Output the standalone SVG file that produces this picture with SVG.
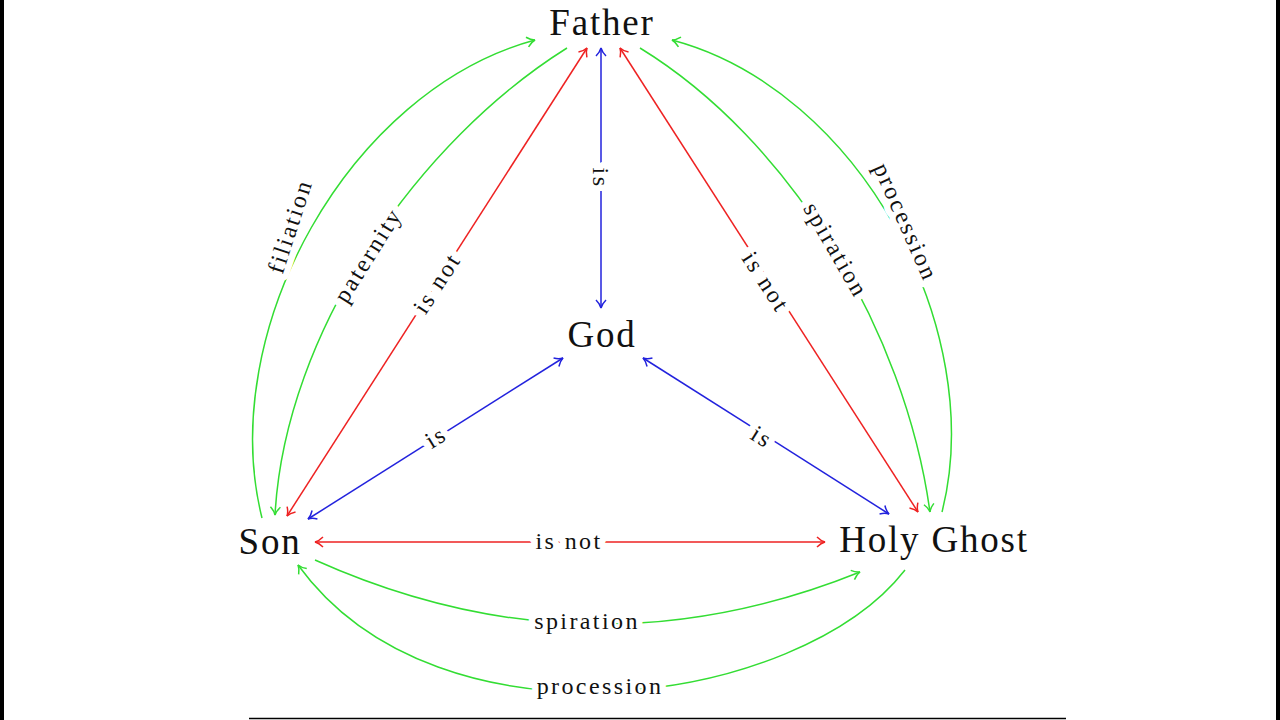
<svg xmlns="http://www.w3.org/2000/svg" width="1280" height="720" viewBox="0 0 1280 720">
<defs>
<marker id="ag" markerWidth="12" markerHeight="12" refX="10" refY="6" orient="auto-start-reverse" markerUnits="userSpaceOnUse"><path d="M2,1 Q6,5 10,6 Q6,7 2,11" fill="none" stroke="#33dd33" stroke-width="1.5"/></marker>
<marker id="ar" markerWidth="12" markerHeight="12" refX="10" refY="6" orient="auto-start-reverse" markerUnits="userSpaceOnUse"><path d="M2,1 Q6,5 10,6 Q6,7 2,11" fill="none" stroke="#ee2222" stroke-width="1.5"/></marker>
<marker id="ab" markerWidth="12" markerHeight="12" refX="10" refY="6" orient="auto-start-reverse" markerUnits="userSpaceOnUse"><path d="M2,1 Q6,5 10,6 Q6,7 2,11" fill="none" stroke="#2222dd" stroke-width="1.5"/></marker>
<style>
.g{fill:none;stroke:#33dd33;stroke-width:1.5}
.r{fill:none;stroke:#ee2222;stroke-width:1.5}
.b{fill:none;stroke:#2222dd;stroke-width:1.5}
.n{font-family:"Liberation Serif",serif;font-size:37px;letter-spacing:1.8px;fill:#111;text-anchor:middle}
.l{font-family:"Liberation Serif",serif;font-size:24px;letter-spacing:2.4px;fill:#111;text-anchor:middle;dominant-baseline:central;paint-order:stroke;stroke:#fff;stroke-width:13px;stroke-linejoin:round}
</style>
</defs>
<rect width="1280" height="720" fill="#fff"/>
<rect x="0" y="0" width="4" height="720" fill="#000"/>
<rect x="1276" y="0" width="4" height="720" fill="#000"/>
<line x1="249" y1="718.5" x2="1066" y2="718.5" stroke="#000" stroke-width="1.5"/>
<g id="connectors">
<path class="g" marker-end="url(#ag)" d="M262 518 C215 330 350 90 535 40"/>
<path class="g" marker-end="url(#ag)" d="M567 48 C420 140 285 330 275 515"/>
<path class="r" marker-start="url(#ar)" marker-end="url(#ar)" d="M287 516 L587 48"/>
<path class="b" marker-start="url(#ab)" marker-end="url(#ab)" d="M601 48 L601 308"/>
<path class="b" marker-start="url(#ab)" marker-end="url(#ab)" d="M308 519 L563 358"/>
<path class="b" marker-start="url(#ab)" marker-end="url(#ab)" d="M643 358 L889 514"/>
<path class="r" marker-start="url(#ar)" marker-end="url(#ar)" d="M620 48 L918 512"/>
<path class="g" marker-end="url(#ag)" d="M640 48 C790 140 905 330 930 512"/>
<path class="g" marker-end="url(#ag)" d="M942 512 C988 330 860 90 672 40"/>
<path class="r" marker-start="url(#ar)" marker-end="url(#ar)" d="M315 542 L825 542"/>
<path class="g" marker-end="url(#ag)" d="M315 560 Q587 682 860 572"/>
<path class="g" marker-end="url(#ag)" d="M905 570 C800 705 440 760 298 565"/>
<g>
<text class="l" transform="translate(290,226) rotate(-72)">filiation</text>
<text class="l" transform="translate(368,255) rotate(-58)">paternity</text>
<text class="l" transform="translate(437,283) rotate(-57)">is not</text>
<text class="l" transform="translate(601,178) rotate(90)">is</text>
<text class="l" transform="translate(436,437) rotate(-32)">is</text>
<text class="l" transform="translate(762,437) rotate(32)">is</text>
<text class="l" transform="translate(766,282) rotate(57)">is not</text>
<text class="l" transform="translate(836,250) rotate(60)">spiration</text>
<text class="l" transform="translate(906,222) rotate(66)">procession</text>
<text class="l" x="569" y="541">is not</text>
<text class="l" x="587" y="621">spiration</text>
<text class="l" x="600" y="686">procession</text>
</g>
</g>
<g id="father"><text class="n" x="602" y="35">Father</text></g>
<g id="god"><text class="n" x="602" y="347">God</text></g>
<g id="son"><text class="n" x="270" y="554">Son</text></g>
<g id="holyghost"><text class="n" x="934" y="552">Holy Ghost</text></g>
</svg>
